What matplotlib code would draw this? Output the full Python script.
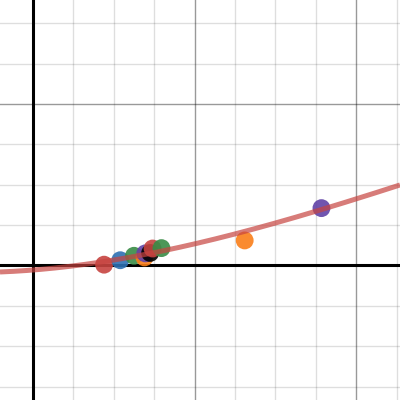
import matplotlib
matplotlib.use("Agg")
import matplotlib.pyplot as plt
import numpy as np

# scatter points, in graph units (one minor grid square = 0.5)
point_x = [0.88, 1.08, 1.25, 1.38, 1.39, 1.45, 1.48, 1.59, 2.62, 3.57]
point_y = [0.01, 0.065, 0.12, 0.10, 0.15, 0.155, 0.21, 0.215, 0.31, 0.71]
point_colors = ["#c74440", "#2d70b3", "#388c46", "#fa7e19", "#6042a6",
                "#000000", "#c74440", "#388c46", "#fa7e19", "#6042a6"]

# cubic regression curve y = c0 + c1 x + c2 x^2 + c3 x^3
curve_coef = [-0.056, 0.0795, 0.0471, -0.00299]

x_min, x_max = -0.408, 4.542
y_min, y_max = -1.665, 3.286

fig = plt.figure(figsize=(4, 4), dpi=100)
ax = fig.add_axes([0, 0, 1, 1])
ax.set_xlim(x_min, x_max)
ax.set_ylim(y_min, y_max)
ax.axis("off")

# grid: minor every 0.5, major every 2
for gx in np.arange(-0.5, 5.0, 0.5):
    major = abs(gx / 2 - round(gx / 2)) < 1e-9
    ax.axvline(gx, color="black", alpha=0.4 if major else 0.13, lw=1.0, zorder=1)
for gy in np.arange(-2.0, 3.5, 0.5):
    major = abs(gy / 2 - round(gy / 2)) < 1e-9
    ax.axhline(gy, color="black", alpha=0.4 if major else 0.13, lw=1.0, zorder=1)

ax.axvline(0, color="black", lw=2.2, zorder=2)
ax.axhline(0, color="black", lw=2.2, zorder=2)

for px, py, c in zip(point_x, point_y, point_colors):
    ax.scatter(px, py, s=165, color=c, alpha=0.9, edgecolors="none", zorder=3)

xs = np.linspace(x_min, x_max, 300)
ys = np.polyval(curve_coef[::-1], xs)
ax.plot(xs, ys, color="#c74440", lw=3.6, alpha=0.7, solid_capstyle="butt", zorder=4)

fig.savefig("out.png", dpi=100)
